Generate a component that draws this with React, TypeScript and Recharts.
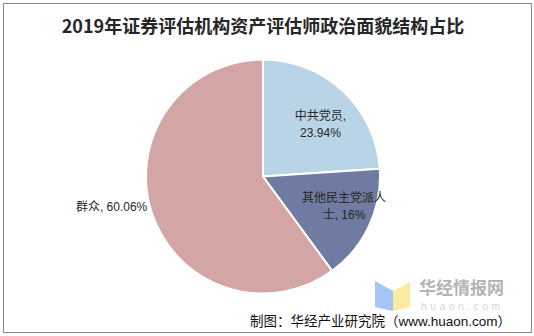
import { Cell, Pie, PieChart } from "recharts";

const categories = ["中共党员", "其他民主党派人士", "群众"];
const shares = [23.94, 16, 60.06];
const labelLines = [
  ["中共党员,", "23.94%"],
  ["其他民主党派人", "士, 16%"],
  ["群众, 60.06%"],
];
const colors = ["#B9D4E6", "#6F7BA0", "#D3A5A5"];

// label placement tweaks: fraction of radius, angle offset (deg)
const LABEL_POS = [
  { r: 0.66, da: -5 },
  { r: 0.74, da: 4.4 },
  { r: 1.32, da: -6.7 },
];

const FONT = '"Liberation Sans", Arial, "Noto Sans CJK SC", sans-serif';
const RAD = Math.PI / 180;

const rows = categories.map((name, i) => ({ name, value: shares[i] }));

function renderLabel(props: any) {
  const { cx, cy, midAngle, outerRadius, index } = props;
  const pos = LABEL_POS[index];
  const a = (midAngle + pos.da) * RAD;
  const r = outerRadius * pos.r;
  const x = cx + r * Math.cos(-a);
  const y = cy + r * Math.sin(-a);
  const lines = labelLines[index];
  const lh = 17;
  const y0 = y - ((lines.length - 1) * lh) / 2;
  return (
    <text
      x={x}
      y={y0}
      textAnchor="middle"
      dominantBaseline="central"
      fontSize={12}
      fontFamily={FONT}
      fill="#262626"
    >
      {lines.map((l, k) => (
        <tspan key={k} x={x} y={y0 + k * lh} dominantBaseline="central">
          {l}
        </tspan>
      ))}
    </text>
  );
}

export default function App() {
  return (
    <div
      style={{
        position: "absolute",
        left: 0,
        top: 0,
        width: 534,
        height: 336,
        background: "#fff",
      }}
    >
      <div
        style={{
          position: "absolute",
          left: 3,
          top: 3,
          width: 527,
          height: 328,
          border: "1px solid #8a8a8a",
        }}
      />
      <div
        style={{
          position: "absolute",
          left: 0,
          top: 13,
          width: 526,
          textAlign: "center",
          fontFamily: '"Noto Sans CJK SC", serif',
          fontWeight: 700,
          fontSize: 18,
          color: "#262626",
          lineHeight: "24px",
        }}
      >
        2019年证券评估机构资产评估师政治面貌结构占比
      </div>
      <PieChart
        width={534}
        height={336}
        margin={{ top: 0, right: 0, bottom: 0, left: 0 }}
        style={{ position: "absolute", left: 0, top: 0 }}
      >
        <Pie
          data={rows}
          dataKey="value"
          nameKey="name"
          cx={263}
          cy={176.5}
          outerRadius={117}
          startAngle={90}
          endAngle={-270}
          stroke="#fff"
          strokeWidth={2}
          label={renderLabel}
          labelLine={false}
          isAnimationActive={false}
        >
          {rows.map((r, i) => (
            <Cell key={r.name} fill={colors[i]} />
          ))}
        </Pie>
      </PieChart>
      {/* watermark */}
      <svg
        width={40}
        height={34}
        style={{ position: "absolute", left: 372, top: 279 }}
      >
        <polygon points="3,2 21,12 21,32 3,28" fill="#A3C6F6" />
        <polygon points="21,12 38,3 38,28 21,32" fill="#FCEAA0" />
      </svg>
      <div
        style={{
          position: "absolute",
          left: 419,
          top: 277,
          fontFamily: '"Noto Sans CJK SC", sans-serif',
          fontWeight: 700,
          fontSize: 17,
          lineHeight: "20px",
          color: "#b4b4b4",
        }}
      >
        华经情报网
      </div>
      <div
        style={{
          position: "absolute",
          left: 421,
          top: 300,
          fontFamily: FONT,
          fontSize: 10.5,
          letterSpacing: 3.4,
          lineHeight: "12px",
          color: "#d6d6d6",
        }}
      >
        huaon.com
      </div>
      <div
        style={{
          position: "absolute",
          left: 250,
          top: 313.5,
          fontFamily: FONT,
          fontSize: 13.5,
          lineHeight: "15px",
          color: "#111",
          whiteSpace: "nowrap",
        }}
      >
        制图：华经产业研究院（www.huaon.com）
      </div>
    </div>
  );
}
